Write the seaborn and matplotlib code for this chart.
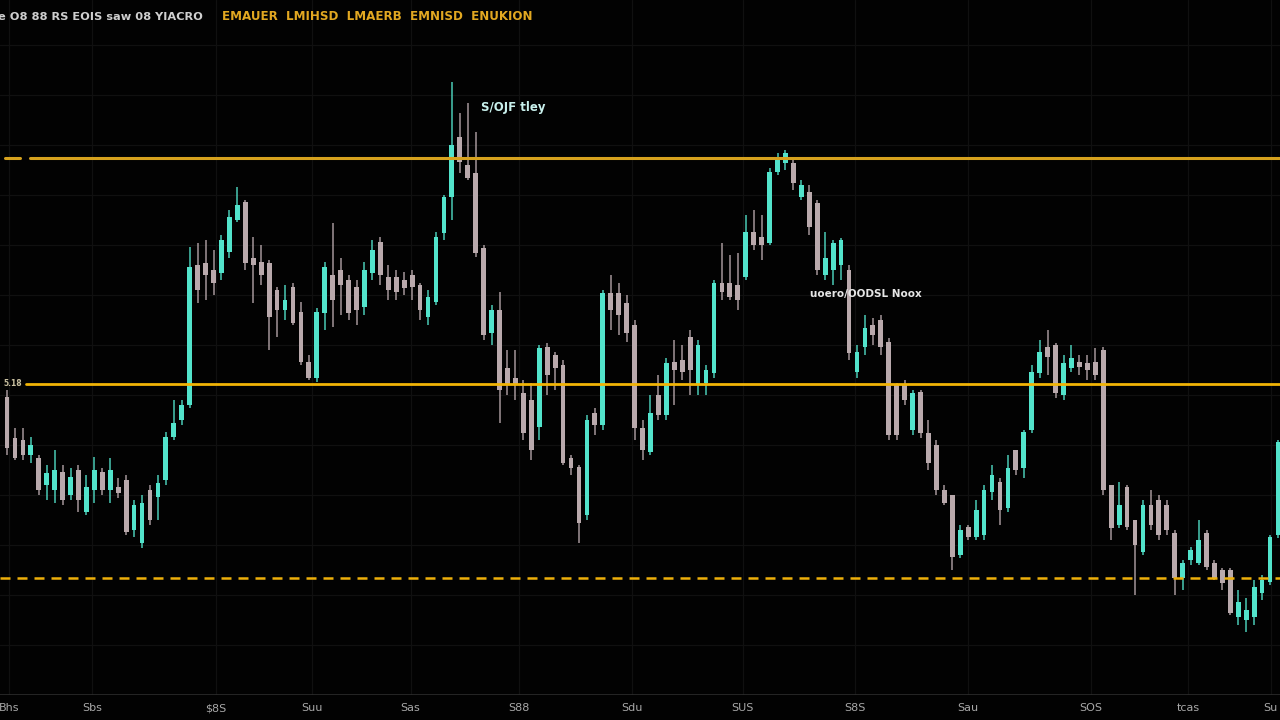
import matplotlib
matplotlib.use("Agg")
import matplotlib.pyplot as plt
import seaborn as sns
import numpy as np
import pandas as pd

# ---------------- data ----------------
opens = [323, 282, 280, 265, 262, 235, 230, 248, 225, 250, 208, 230, 248, 230, 233, 240, 190, 177, 230, 223,
         240, 283, 300, 315, 455, 457, 450, 447, 468, 500, 518, 462, 458, 457, 430, 410, 433, 408, 358, 342,
         407, 445, 450, 440, 433, 413, 447, 478, 443, 443, 440, 445, 435, 403, 418, 487, 523, 583, 555, 547,
         472, 387, 410, 352, 342, 327, 320, 293, 373, 365, 355, 262, 253, 205, 307, 295, 427, 427, 417, 395,
         292, 268, 325, 305, 358, 360, 383, 335, 337, 347, 437, 437, 435, 443, 488, 483, 477, 548, 557, 557,
         523, 528, 517, 445, 450, 455, 450, 348, 373, 395, 400, 378, 335, 335, 290, 328, 287, 275, 230, 225,
         165, 193, 183, 185, 228, 238, 212, 270, 252, 290, 347, 373, 375, 325, 352, 358, 357, 358, 370, 235,
         195, 233, 200, 168, 215, 220, 215, 187, 142, 160, 157, 187, 157, 150, 150, 103, 100, 103, 127, 138,
         185]
highs = [330, 292, 292, 283, 265, 255, 270, 255, 252, 255, 245, 263, 252, 262, 242, 245, 220, 225, 235, 245,
         288, 320, 320, 473, 477, 480, 470, 485, 510, 533, 520, 483, 475, 460, 433, 435, 437, 418, 365, 412,
         458, 497, 462, 445, 440, 458, 480, 483, 455, 450, 448, 450, 437, 430, 488, 525, 638, 607, 617, 588,
         475, 415, 428, 370, 370, 340, 337, 375, 377, 368, 360, 265, 255, 305, 312, 430, 445, 437, 425, 400,
         300, 325, 345, 362, 380, 375, 390, 380, 355, 440, 477, 465, 467, 505, 510, 505, 552, 567, 570, 560,
         540, 535, 520, 488, 480, 482, 455, 375, 405, 402, 405, 382, 337, 340, 330, 330, 300, 280, 235, 225,
         195, 195, 220, 235, 255, 242, 265, 270, 290, 355, 380, 390, 377, 365, 375, 365, 365, 372, 373, 235,
         238, 235, 200, 220, 230, 225, 220, 190, 160, 173, 200, 190, 160, 152, 152, 130, 122, 140, 145, 185,
         280]
lows = [265, 260, 260, 257, 225, 220, 217, 215, 220, 208, 205, 217, 225, 217, 222, 185, 183, 172, 195, 200,
        235, 280, 295, 312, 417, 420, 425, 440, 462, 498, 450, 417, 435, 370, 383, 400, 395, 355, 340, 338,
        390, 393, 405, 400, 395, 405, 440, 435, 420, 420, 425, 420, 400, 395, 415, 480, 500, 547, 540, 463,
        380, 375, 297, 325, 320, 280, 260, 280, 325, 330, 255, 245, 177, 200, 285, 290, 390, 385, 378, 280,
        260, 265, 300, 300, 315, 340, 325, 325, 325, 342, 420, 420, 410, 440, 470, 460, 475, 545, 550, 530,
        520, 485, 445, 440, 435, 440, 360, 342, 365, 375, 365, 280, 280, 315, 285, 282, 250, 225, 215, 150,
        162, 180, 180, 180, 220, 195, 208, 245, 242, 287, 342, 345, 322, 320, 348, 345, 340, 340, 225, 180,
        192, 190, 125, 165, 190, 180, 185, 125, 130, 155, 155, 150, 140, 130, 105, 95, 88, 95, 120, 135,
        182]
closes = [272, 262, 265, 275, 230, 247, 250, 220, 243, 220, 233, 250, 230, 250, 227, 188, 215, 217, 200, 237,
          283, 297, 315, 453, 430, 445, 437, 480, 503, 515, 457, 455, 445, 403, 410, 420, 397, 358, 342, 408,
          453, 420, 435, 407, 410, 450, 470, 445, 430, 428, 432, 433, 410, 423, 483, 523, 575, 558, 542, 467,
          385, 410, 330, 335, 335, 287, 270, 372, 345, 352, 257, 252, 197, 300, 295, 427, 410, 405, 387, 292,
          270, 307, 305, 357, 350, 348, 350, 375, 350, 437, 428, 423, 420, 488, 475, 475, 548, 560, 567, 537,
          535, 493, 450, 462, 477, 480, 367, 368, 392, 385, 373, 285, 285, 320, 327, 287, 257, 230, 217, 163,
          190, 183, 210, 230, 245, 210, 252, 250, 288, 348, 368, 363, 327, 357, 362, 353, 350, 345, 230, 192,
          215, 193, 175, 215, 195, 185, 190, 142, 157, 170, 180, 153, 142, 137, 107, 118, 110, 133, 140, 183,
          278]

resistance_level = 562
pivot_level = 336
support_level = 142

tick_pos = [0.25, 10.7, 26.3, 38.4, 50.8, 64.4, 78.7, 92.6, 106.8, 121.0, 136.4, 148.7, 159.1]
tick_labels = ["Bhs", "Sbs", "$8S", "Suu", "Sas", "S88", "Sdu", "SUS", "S8S", "Sau", "SOS", "tcas", "Su"]

title_white = "e O8 88 RS EOIS saw 08 YIACRO"
title_gold = "EMAUER  LMIHSD  LMAERB  EMNISD  ENUKION"
note_top = "S/OJF tley"
note_mid = "uoero/OODSL Noox"
pivot_label = "5.18"

# ---------------- style ----------------
BG = "#020202"
UP = "#52e3cb"
DOWN = "#b9a9ac"
GOLD_TOP = "#d6a21e"
GOLD_MID = "#f1b406"
GOLD_DASH = "#eeb00a"

sns.set_theme(style="dark", rc={
    "axes.facecolor": BG,
    "figure.facecolor": BG,
    "axes.edgecolor": BG,
    "grid.color": "#0f0f0f",
    "text.color": "#d8d8d8",
    "xtick.color": "#a8a8a8",
})
plt.rcParams["font.family"] = ["DejaVu Sans"]

df = pd.DataFrame({"open": opens, "high": highs, "low": lows, "close": closes})
df["idx"] = np.arange(len(df))
df["up"] = df["close"] >= df["open"]
df["bottom"] = df[["open", "close"]].min(axis=1)
df["height"] = (df["close"] - df["open"]).abs().clip(lower=3)
df["color"] = np.where(df["up"], UP, DOWN)

fig = plt.figure(figsize=(12.8, 7.2), dpi=100, facecolor=BG)
ax = fig.add_axes([0, 25 / 720, 1, 695 / 720])
ax.set_facecolor(BG)

n = len(df)
step = 1271 / (n - 1)
ax.set_xlim(-7 / step, (n - 1) + 2 / step)
ax.set_ylim(25, 720)

# grid
ax.set_yticks(np.arange(75, 720, 50))
ax.set_yticklabels([])
ax.grid(True, axis="both", color="#101010", linewidth=0.9)
ax.tick_params(axis="y", length=0)

# wicks and bodies
ax.vlines(df["idx"], df["low"], df["high"], colors=df["color"], linewidth=1.3, alpha=0.75, zorder=2)
ax.bar(df["idx"], df["height"], bottom=df["bottom"], width=0.6, color=df["color"],
       linewidth=0, zorder=2.5)

# levels
ax.axhline(resistance_level, xmin=30 / 1280, xmax=1, color=GOLD_TOP, linewidth=2.2, zorder=3)
ax.axhline(resistance_level, xmin=5 / 1280, xmax=20 / 1280, color=GOLD_TOP, linewidth=2.2, zorder=3)
ax.axhline(pivot_level, xmin=26 / 1280, xmax=1, color=GOLD_MID, linewidth=2.0, zorder=3)
ax.axhline(support_level, color=GOLD_DASH, linewidth=1.8, linestyle=(0, (4, 2.8)), zorder=3)

# x ticks
ax.set_xticks(tick_pos)
ax.set_xticklabels(tick_labels, fontsize=8, color="#a8a8a8")
ax.tick_params(axis="x", length=0, pad=6)
for s in ax.spines.values():
    s.set_visible(False)
ax.axhline(25, color="#2c2c2c", linewidth=1.2, zorder=1)

# texts
fig.text(-2 / 1280, 1 - 17 / 720, title_white, fontsize=8.2, fontweight="bold",
         color="#cfcfcf", va="center", ha="left")
fig.text(222 / 1280, 1 - 17 / 720, title_gold, fontsize=8.6, fontweight="bold",
         color="#e2a821", va="center", ha="left")
fig.text(481 / 1280, 1 - 108 / 720, note_top, fontsize=8.5, fontweight="bold",
         color="#c8f0ec", va="center", ha="left")
fig.text(810 / 1280, 1 - 294 / 720, note_mid, fontsize=7.5, fontweight="bold",
         color="#e6e6e6", va="center", ha="left")
fig.text(3 / 1280, 1 - 384 / 720, pivot_label, fontsize=5.5, fontweight="bold",
         color="#c9c0a0", va="center", ha="left")

fig.savefig("out.png", dpi=100, facecolor=BG)
